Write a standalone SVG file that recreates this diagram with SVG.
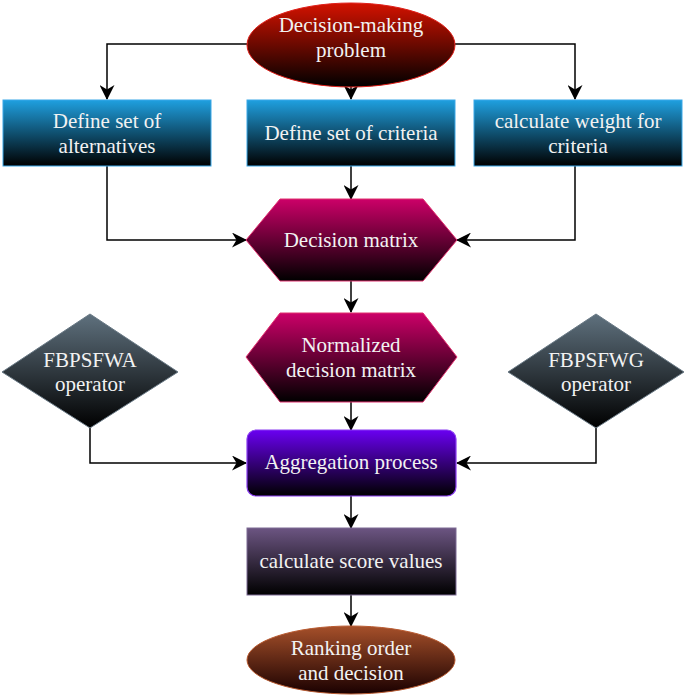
<svg xmlns="http://www.w3.org/2000/svg" width="685" height="696" viewBox="0 0 685 696">
<defs>
<linearGradient id="gRed" x1="0" y1="0" x2="0" y2="1"><stop offset="0" stop-color="#d41200"/><stop offset="1" stop-color="#000"/></linearGradient>
<linearGradient id="gBlue" x1="0" y1="0" x2="0" y2="1"><stop offset="0" stop-color="#1fa0e0"/><stop offset="1" stop-color="#000"/></linearGradient>
<linearGradient id="gPink" x1="0" y1="0" x2="0" y2="1"><stop offset="0" stop-color="#cc0068"/><stop offset="1" stop-color="#000"/></linearGradient>
<linearGradient id="gGrey" x1="0" y1="0" x2="0" y2="1"><stop offset="0" stop-color="#5f717e"/><stop offset="1" stop-color="#000"/></linearGradient>
<linearGradient id="gPurple" x1="0" y1="0" x2="0" y2="1"><stop offset="0" stop-color="#6a00f2"/><stop offset="1" stop-color="#000"/></linearGradient>
<linearGradient id="gMauve" x1="0" y1="0" x2="0" y2="1"><stop offset="0" stop-color="#6c5582"/><stop offset="1" stop-color="#000"/></linearGradient>
<linearGradient id="gBrown" x1="0" y1="0" x2="0" y2="1"><stop offset="0" stop-color="#a6502a"/><stop offset="1" stop-color="#1a0000"/></linearGradient>
<marker id="arr" markerWidth="15" markerHeight="15" refX="14" refY="7.5" orient="auto" markerUnits="userSpaceOnUse">
<path d="M0,0 L15,7.5 L0,15 L4.5,7.5 z" fill="#000"/>
</marker>
<style>
.c{fill:none;stroke:#000;stroke-width:1.5}
</style>
</defs>
<g id="connectors">
<path class="c" d="M247,44 H107 V99" marker-end="url(#arr)"/>
<path class="c" d="M455,44 H575 V99" marker-end="url(#arr)"/>
<path class="c" d="M351,87 V99" marker-end="url(#arr)"/>
<path class="c" d="M107,166 V240 H246" marker-end="url(#arr)"/>
<path class="c" d="M575,166 V240 H457" marker-end="url(#arr)"/>
<path class="c" d="M351,166 V199" marker-end="url(#arr)"/>
<path class="c" d="M351,281 V312" marker-end="url(#arr)"/>
<path class="c" d="M351,402 V430" marker-end="url(#arr)"/>
<path class="c" d="M90,428 V463 H246" marker-end="url(#arr)"/>
<path class="c" d="M596,428 V463 H457" marker-end="url(#arr)"/>
<path class="c" d="M351,496 V528" marker-end="url(#arr)"/>
<path class="c" d="M351,595 V626" marker-end="url(#arr)"/>
</g>
<g font-family="'Liberation Serif', 'Times New Roman', Times, serif" font-size="21" fill="#f2f2f2" text-anchor="middle">
<g id="n-problem">
<ellipse cx="351" cy="45" rx="104" ry="42" fill="url(#gRed)" stroke="#e0201a" stroke-width="1"/>
<text x="351" y="32">Decision-making</text>
<text x="351" y="57">problem</text>
</g>
<g id="n-alternatives">
<rect x="3" y="100" width="208" height="66" fill="url(#gBlue)" stroke="#3aa8e8" stroke-width="1"/>
<text x="107" y="128">Define set of</text>
<text x="107" y="153">alternatives</text>
</g>
<g id="n-criteria">
<rect x="247" y="100" width="208" height="66" fill="url(#gBlue)" stroke="#3aa8e8" stroke-width="1"/>
<text x="351" y="140">Define set of criteria</text>
</g>
<g id="n-weight">
<rect x="474" y="100" width="208" height="66" fill="url(#gBlue)" stroke="#3aa8e8" stroke-width="1"/>
<text x="578" y="128">calculate weight for</text>
<text x="578" y="153">criteria</text>
</g>
<g id="n-matrix">
<path d="M246,240 L280,199 L423,199 L457,240 L423,281 L280,281 Z" fill="url(#gPink)" stroke="#e0306e" stroke-width="1"/>
<text x="351" y="247">Decision matrix</text>
</g>
<g id="n-normalized">
<path d="M246,357 L280,313 L423,313 L457,357 L423,402 L280,402 Z" fill="url(#gPink)" stroke="#e0306e" stroke-width="1"/>
<text x="351" y="352">Normalized</text>
<text x="351" y="377">decision matrix</text>
</g>
<g id="n-fbpsfwa">
<path d="M90,314 L178,372 L90,428 L2,372 Z" fill="url(#gGrey)" stroke="#6a7a86" stroke-width="1"/>
<text x="90" y="367">FBPSFWA</text>
<text x="90" y="391">operator</text>
</g>
<g id="n-fbpsfwg">
<path d="M596,314 L684,372 L596,428 L508,372 Z" fill="url(#gGrey)" stroke="#6a7a86" stroke-width="1"/>
<text x="596" y="367">FBPSFWG</text>
<text x="596" y="391">operator</text>
</g>
<g id="n-aggregation">
<rect x="247" y="430" width="209" height="66" rx="9" fill="url(#gPurple)" stroke="#8a3cf0" stroke-width="1.2"/>
<text x="351" y="469">Aggregation process</text>
</g>
<g id="n-score">
<rect x="247" y="528" width="209" height="67" fill="url(#gMauve)" stroke="#7c6a94" stroke-width="1"/>
<text x="351" y="568">calculate score values</text>
</g>
<g id="n-ranking">
<ellipse cx="351" cy="660" rx="104" ry="34" fill="url(#gBrown)" stroke="#b85a30" stroke-width="1"/>
<text x="351" y="655">Ranking order</text>
<text x="351" y="680">and decision</text>
</g>
</g>
</svg>
